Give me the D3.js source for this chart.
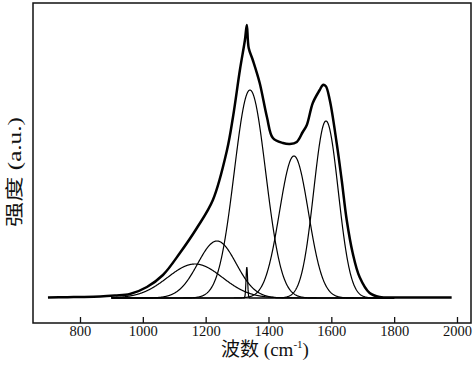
<!DOCTYPE html>
<html>
<head>
<meta charset="utf-8">
<script src="https://cdn.jsdelivr.net/npm/d3@7"></script>
<style>
	body { margin: 0; background: #fff; }
	svg { display: block; }
	.tick-label { font-family: "Liberation Serif", "Times New Roman", serif; font-size: 14.5px; fill: #111; }
	.axis-title { font-family: "Liberation Serif", "Times New Roman", "Noto Sans CJK SC", serif; fill: #111; }
</style>
</head>
<body>
<div id="chart"></div>
<script>
// measured spectrum (wavenumber, intensity a.u.)
var specX = [698, 760, 800, 864, 911, 959, 1013, 1064, 1118, 1172, 1223, 1268, 1287, 1309, 1325, 1331, 1337, 1350, 1372, 1395, 1414, 1446, 1468, 1490, 1509, 1522, 1541, 1563, 1573, 1582, 1595, 1617, 1633, 1649, 1668, 1690, 1722, 1754, 1817, 1900, 1983];
var specY = [0.5, 0.8, 1, 1.5, 2.5, 4, 11, 23, 45, 70, 98, 148, 181, 228, 258, 273, 250, 238, 215, 181, 160, 155, 154, 156, 166, 173, 195, 208, 213, 212, 198, 155, 118, 78, 45, 21, 5, 1, 0.5, 0.5, 0.5];

// fitted components: centre, height, sigma
var peakCentre = [1166, 1236, 1341, 1481, 1583, 1331];
var peakHeight = [34, 57, 208, 142, 177, 31];
var peakSigma  = [87, 61, 50, 46, 39, 2.5];

var xTicks = [800, 1000, 1200, 1400, 1600, 1800, 2000];

var W = 474, H = 373;
var mL = 33, mR = 471, mT = 3, mB = 323;

var svg = d3.select("#chart").append("svg")
	.attr("width", W)
	.attr("height", H);

var x = d3.scaleLinear().domain([650.4, 2044.6]).range([mL, mR]);
var y = d3.scaleLinear().domain([-25, 295]).range([mB, mT]);

var line = d3.line()
	.x(function(d) { return x(d[0]); })
	.y(function(d) { return y(d[1]); });

// components
var comps = peakCentre.map(function(c, i) {
	var pts = [];
	for (var w = 900; w <= 1800; w += 1) {
		var z = (w - c) / peakSigma[i];
		pts.push([w, peakHeight[i] * Math.exp(-0.5 * z * z)]);
	}
	return pts;
});

svg.append("g").selectAll("path")
	.data(comps)
	.enter().append("path")
		.attr("d", line)
		.attr("fill", "none")
		.attr("stroke", "#000")
		.attr("stroke-width", 1.2);

// spectrum
var spec = specX.map(function(v, i) { return [v, specY[i]]; });
svg.append("path")
	.datum(spec)
	.attr("d", line.curve(d3.curveCatmullRom.alpha(0.5)))
	.attr("fill", "none")
	.attr("stroke", "#000")
	.attr("stroke-width", 2.5);

// frame
svg.append("rect")
	.attr("x", mL)
	.attr("y", mT)
	.attr("width", mR - mL)
	.attr("height", mB - mT)
	.attr("fill", "none")
	.attr("stroke", "#111")
	.attr("stroke-width", 1.5);

// bottom axis, ticks inward
var xAxis = d3.axisBottom(x).tickValues(xTicks).tickSize(-6).tickFormat(d3.format("d"));
var gx = svg.append("g")
	.attr("transform", "translate(0," + mB + ")")
	.call(xAxis);
gx.select(".domain").remove();
gx.attr("font-family", null).attr("font-size", null);
gx.selectAll(".tick line").attr("stroke", "#111").attr("stroke-width", 1.3);
gx.selectAll(".tick text")
	.attr("class", "tick-label")
	.attr("fill", null)
	.attr("dy", null)
	.attr("y", 13);

// x title
var xt = svg.append("text")
	.attr("class", "axis-title")
	.attr("x", 265)
	.attr("y", 356)
	.attr("text-anchor", "middle")
	.style("font-size", "19px");
xt.append("tspan").style("font-family", "'Noto Sans CJK SC'").text("波数");
xt.append("tspan").text(" (cm");
xt.append("tspan").attr("dy", -8).style("font-size", "11px").text("-1");
xt.append("tspan").attr("dy", 8).text(")");

// y title, stretched along its length
var yt = svg.append("text")
	.attr("class", "axis-title")
	.attr("transform", "translate(21,172) rotate(-90) scale(1.4,1)")
	.attr("text-anchor", "middle")
	.style("font-size", "18px");
yt.append("tspan").style("font-family", "'Noto Sans CJK SC'").text("强度");
yt.append("tspan").text(" (a.u.)");
</script>
</body>
</html>
